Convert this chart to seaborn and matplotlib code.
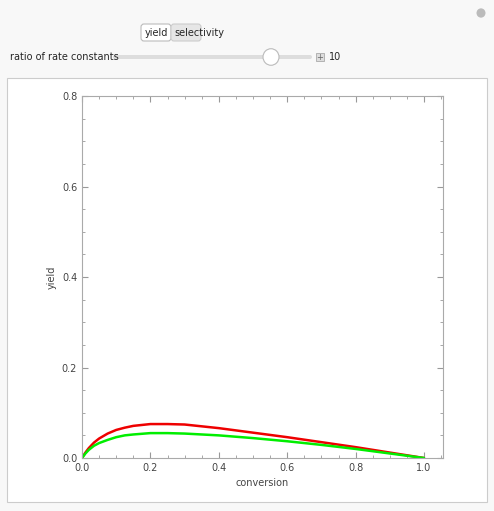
import numpy as np
import pandas as pd
import matplotlib
matplotlib.use("Agg")
import matplotlib.pyplot as plt
import seaborn as sns
from matplotlib.patches import FancyBboxPatch, Rectangle, Circle

sns.set_style("ticks")

conversion = [0, 0.01, 0.02, 0.035, 0.05, 0.075, 0.1, 0.125, 0.15, 0.2, 0.25, 0.3, 0.35, 0.4, 0.5, 0.6, 0.7, 0.8, 0.9, 0.95, 1.0]
yield_red = [0, 0.012, 0.022, 0.034, 0.043, 0.054, 0.062, 0.067, 0.071, 0.075, 0.075, 0.074, 0.070, 0.066, 0.056, 0.046, 0.035, 0.024, 0.012, 0.006, 0]
yield_green = [0, 0.010, 0.018, 0.027, 0.033, 0.040, 0.046, 0.050, 0.052, 0.055, 0.055, 0.054, 0.052, 0.050, 0.044, 0.037, 0.029, 0.020, 0.010, 0.005, 0]

df = pd.DataFrame({"conversion": conversion * 2,
                   "yield": yield_red + yield_green,
                   "series": ["red"] * len(conversion) + ["green"] * len(conversion)})

fig = plt.figure(figsize=(4.94, 5.11), dpi=100)
fig.patch.set_facecolor("#f8f8f8")
W, H = 494, 511

def fx(px): return px / W
def fy(py): return 1 - py / H

# white panel
fig.patches.append(Rectangle((fx(7), fy(502)), fx(480), 424 / H, transform=fig.transFigure,
                             facecolor="white", edgecolor="#cccccc", lw=0.8, zorder=-1))
# buttons
fig.patches.append(FancyBboxPatch((fx(141), fy(41)), 30 / W, 17 / H, boxstyle="round,pad=0,rounding_size=0.006",
                                  transform=fig.transFigure, facecolor="white", edgecolor="#bbbbbb", lw=0.8))
fig.patches.append(FancyBboxPatch((fx(171), fy(41)), 30 / W, 17 / H, boxstyle="round,pad=0,rounding_size=0.006",
                                  transform=fig.transFigure, facecolor="#e6e6e6", edgecolor="#cccccc", lw=0.8))
fig.text(fx(156), fy(33), "yield", ha="center", va="center", fontsize=7)
fig.text(fx(174), fy(33), "selectivity", ha="left", va="center", fontsize=7)
fig.text(fx(10), fy(57), "ratio of rate constants", ha="left", va="center", fontsize=7)
fig.patches.append(FancyBboxPatch((fx(113), fy(59)), 199 / W, 4 / H, boxstyle="round,pad=0,rounding_size=0.004",
                                  transform=fig.transFigure, facecolor="#dddddd", edgecolor="none"))
fig.patches.append(Circle((fx(271), fy(57)), 8 / W, transform=fig.transFigure,
                          facecolor="white", edgecolor="#bbbbbb", lw=0.8))
fig.patches.append(Rectangle((fx(316), fy(61)), 8 / W, 8 / H, transform=fig.transFigure,
                             facecolor="#dddddd", edgecolor="#aaaaaa", lw=0.6))
fig.text(fx(320), fy(57), "+", ha="center", va="center", fontsize=6, color="#666666")
fig.text(fx(329), fy(57), "10", ha="left", va="center", fontsize=7)
fig.patches.append(Circle((fx(481), fy(13)), 4.5 / W, transform=fig.transFigure,
                          facecolor="#bbbbbb", edgecolor="none"))

ax = fig.add_axes([fx(82), fy(458), (443 - 82) / W, (458 - 96) / H])
ax.set_zorder(5)
sns.lineplot(data=df, x="conversion", y="yield", hue="series",
             palette={"red": "#ee0000", "green": "#00ee00"}, lw=1.8, legend=False, ax=ax)
ax.set_xlim(0, 361 / 342)
ax.set_ylim(0, 0.8)
ax.set_xticks([0, 0.2, 0.4, 0.6, 0.8, 1.0])
ax.set_xticklabels(["0.0", "0.2", "0.4", "0.6", "0.8", "1.0"])
ax.set_yticks([0, 0.2, 0.4, 0.6, 0.8])
ax.set_yticklabels(["0.0", "0.2", "0.4", "0.6", "0.8"])
ax.set_xticks(np.arange(0, 1.06, 0.05), minor=True)
ax.set_yticks(np.arange(0, 0.81, 0.05), minor=True)
ax.tick_params(which="both", direction="in", top=True, right=True, colors="#999999",
               labelcolor="#444444", labelsize=7)
ax.tick_params(which="major", length=4)
ax.tick_params(which="minor", length=2)
for s in ax.spines.values():
    s.set_color("#aaaaaa")
ax.set_xlabel("conversion", fontsize=7, color="#444444")
ax.set_ylabel("yield", fontsize=7, color="#444444")

fig.savefig("out.png", dpi=100)
